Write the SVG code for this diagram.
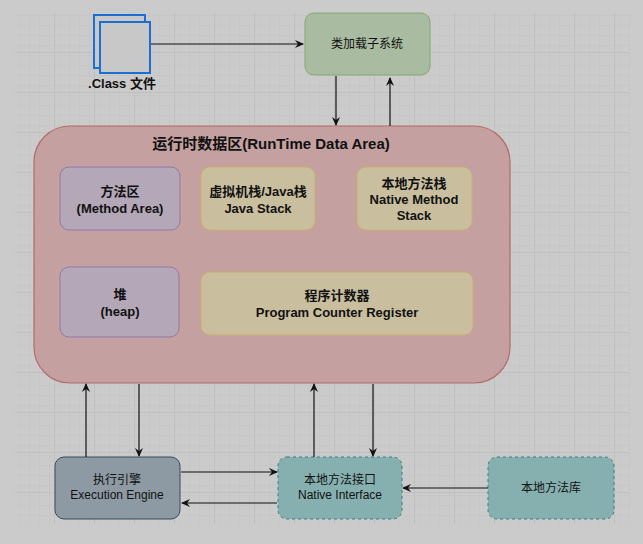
<svg xmlns="http://www.w3.org/2000/svg" width="643" height="544" viewBox="0 0 643 544">
<defs>
<pattern id="minor" width="10" height="10" patternUnits="userSpaceOnUse" x="15" y="13"><path d="M10 0V10H0" fill="none" stroke="#bfbfbf" stroke-width="0.6"/></pattern>
<pattern id="major" width="40" height="40" patternUnits="userSpaceOnUse" x="15" y="13"><rect width="40" height="40" fill="url(#minor)"/><path d="M40 0V40H0" fill="none" stroke="#b5b5b5" stroke-width="1"/></pattern>
<marker id="ah" markerWidth="10" markerHeight="10" refX="8" refY="5" orient="auto" markerUnits="userSpaceOnUse"><path d="M0 1L9 5L0 9L3 5Z" fill="#111"/></marker>
</defs>
<style>
text{font-family:"Liberation Sans","Noto Sans CJK SC",sans-serif;text-anchor:middle;fill:#111}
.b{font-weight:bold;font-size:13px}
.n{font-size:12px}
.c{stroke:#111;stroke-width:1.2;fill:none;marker-end:url(#ah)}
</style>
<rect width="643" height="544" fill="#cbcbcb"/>
<rect x="15" y="13" width="615" height="512" fill="url(#major)"/>
<g id="classfile">
<rect x="94" y="15" width="51" height="53" fill="#c8c8c8" stroke="#1a6fd0" stroke-width="2"/>
<rect x="100" y="22" width="50" height="51" fill="#c8c8c8" stroke="#1a6fd0" stroke-width="2"/>
<text x="122" y="88" class="b">.Class 文件</text>
</g>
<g id="loader"><rect x="305" y="13" width="125" height="62" rx="9" fill="#a9bba0" stroke="#82a872"/><text x="367" y="48" class="n">类加载子系统</text></g>
<g id="runtime"><rect x="34" y="126" width="476" height="257" rx="36" fill="#c4a0a0" stroke="#b46a6a" stroke-width="1.2"/><text x="271" y="149" style="font-weight:bold;font-size:15px">运行时数据区(RunTime Data Area)</text></g>
<g id="method"><rect x="60" y="167" width="120" height="63" rx="9" fill="#b3a7b8" stroke="#9078a8"/><text x="120" y="196" class="b">方法区</text><text x="120" y="213" class="b">(Method Area)</text></g>
<g id="javastack"><rect x="201" y="167" width="114" height="63" rx="9" fill="#c9bf9f" stroke="#c9b070"/><text x="258" y="196" class="b">虚拟机栈/Java栈</text><text x="258" y="213" class="b">Java Stack</text></g>
<g id="nativestack"><rect x="357" y="167" width="115" height="63" rx="9" fill="#c9bf9f" stroke="#c9b070"/><text x="414" y="188" class="b">本地方法栈</text><text x="414" y="204" class="b">Native Method</text><text x="414" y="220" class="b">Stack</text></g>
<g id="heap"><rect x="60" y="267" width="119" height="70" rx="9" fill="#b3a7b8" stroke="#9078a8"/><text x="120" y="299" class="b">堆</text><text x="120" y="316" class="b">(heap)</text></g>
<g id="pc"><rect x="201" y="272" width="272" height="63" rx="9" fill="#c9bf9f" stroke="#c9b070"/><text x="337" y="300" class="b">程序计数器</text><text x="337" y="317" class="b">Program Counter Register</text></g>
<g id="engine"><rect x="55" y="457" width="125" height="62" rx="9" fill="#8d9aa3" stroke="#3b4a56"/><text x="117" y="484" class="n">执行引擎</text><text x="117" y="499" class="n">Execution Engine</text></g>
<g id="nativeif"><rect x="278" y="457" width="124" height="62" rx="9" fill="#86b0b0" stroke="#3d7c7c" stroke-dasharray="3 3"/><text x="340" y="484" class="n">本地方法接口</text><text x="340" y="499" class="n">Native Interface</text></g>
<g id="nativelib"><rect x="488" y="457" width="126" height="62" rx="9" fill="#86b0b0" stroke="#3d7c7c" stroke-dasharray="3 3"/><text x="551" y="492" class="n">本地方法库</text></g>
<g id="connectors">
<path class="c" d="M151 44H303"/>
<path class="c" d="M336 76V125"/>
<path class="c" d="M390 126V78"/>
<path class="c" d="M86 457V384"/>
<path class="c" d="M139 384V456"/>
<path class="c" d="M314 457V384"/>
<path class="c" d="M373 384V456"/>
<path class="c" d="M181 472H277"/>
<path class="c" d="M277 503H182"/>
<path class="c" d="M488 488H403"/>
</g>
</svg>
